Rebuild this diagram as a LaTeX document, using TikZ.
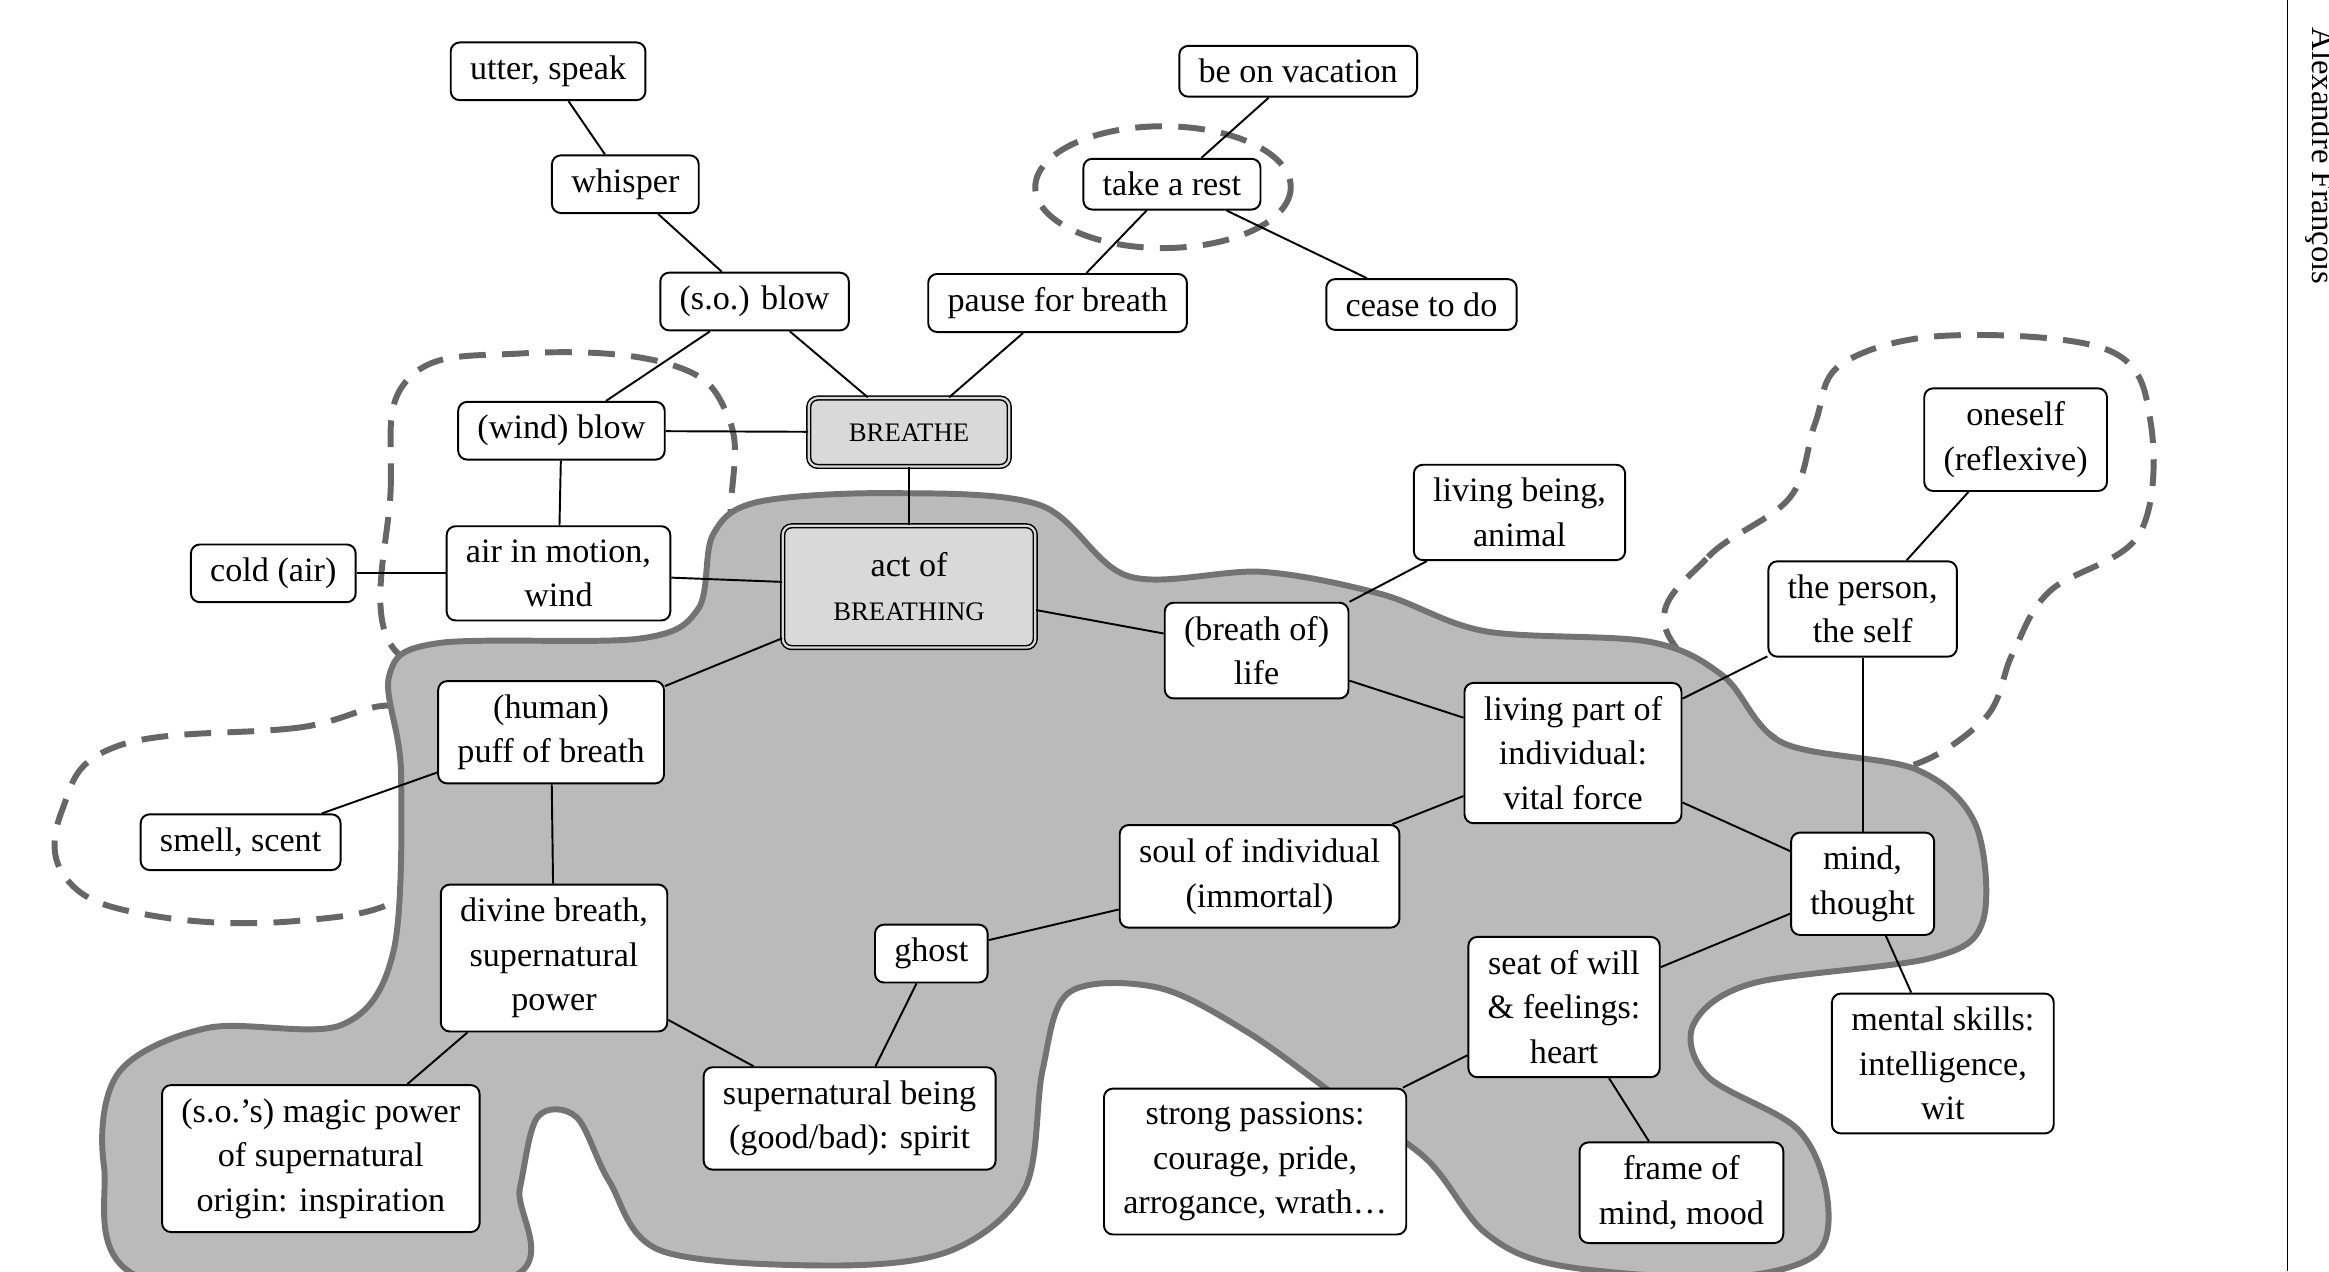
\documentclass[tikz,border=0pt]{standalone}
\usepackage{fontspec}
\setmainfont{Liberation Serif}
\begin{document}
\begin{tikzpicture}[x=1pt,y=-1pt,
  box/.style={draw=black,line width=1.3pt,rounded corners=6pt,fill=white,align=center,inner xsep=13pt,inner ysep=9pt,font=\fontsize{23}{30}\selectfont},
  core/.style={box,fill=gray!30,double=gray!30,double distance=1.5pt,line width=1pt},
  dashblob/.style={draw=black!60,line width=4pt,dash pattern=on 18pt off 11pt},
  ln/.style={line width=1.3pt}]
\useasboundingbox (0,0) rectangle (1568,856);
\fill[white] (0,0) rectangle (1568,856);
% dashed blobs
\draw[dashblob] plot[smooth cycle,tension=0.7] coordinates{(268,440)(263,330)(275,255)(350,238)(450,245)(490,280)(492,340)(480,420)(380,440)};
\draw[dashblob] (783,126) ellipse[x radius=86,y radius=41];
\draw[dashblob] plot[smooth cycle,tension=0.7] coordinates{(275,478)(200,490)(80,502)(42,545)(45,592)(100,616)(200,620)(278,600)(320,540)};
\draw[dashblob] plot[smooth cycle,tension=0.6] coordinates{(1122,425)(1150,375)(1205,335)(1222,285)(1240,245)(1310,226)(1420,236)(1448,285)(1440,360)(1380,398)(1355,440)(1335,485)(1275,518)(1200,500)};
% gray blob
\draw[fill=black!27,draw=black!55,line width=4pt] plot[smooth cycle,tension=0.55] coordinates{
(510,338)(600,332)(700,340)(760,388)(850,385)(930,400)(1000,425)(1110,432)(1160,455)(1200,500)(1290,518)(1330,555)(1335,620)(1300,645)(1180,662)(1140,690)(1150,725)(1210,760)(1230,805)(1222,845)(1160,860)(1050,852)(1000,830)(960,780)(900,738)(840,695)(780,665)(720,668)(702,720)(690,800)(640,842)(560,852)(445,842)(410,795)(388,752)(362,752)(350,800)(338,862)(100,862)(70,785)(80,722)(140,692)(230,690)(265,640)(270,520)(262,455)(295,433)(430,430)(470,410)(480,360)};
% right margin
\draw[line width=1pt] (1540,0) -- (1540,856);
\node[rotate=-90,font=\fontsize{22}{26}\selectfont,inner sep=0pt] (author) at (1562,105) {Alexandre François};
% nodes
\node[box] (utter) at (369,48) {utter, speak};
\node[box] (whisper) at (421,124) {whisper};
\node[box] (soblow) at (508,203) {(s.o.) blow};
\node[box] (vac) at (874,48) {be on vacation};
\node[box] (rest) at (789,124) {take a rest};
\node[box] (pause) at (712,204) {pause for breath};
\node[box] (cease) at (957,205) {cease to do};
\node[core,minimum width=135pt,minimum height=46pt,font=\fontsize{18}{22}\selectfont] (breathe) at (612,291) {BREATHE};
\node[box] (wblow) at (378,290) {(wind) blow};
\node[box] (air) at (376,386) {air in motion,\\wind};
\node[box] (cold) at (184,386) {cold (air)};
\node[core,minimum width=170pt,minimum height=82pt] (act) at (612,395) {act of\\{\fontsize{18}{22}\selectfont BREATHING}};
\node[box] (being) at (1023,345) {living being,\\animal};
\node[box] (life) at (846,438) {(breath of)\\life};
\node[box] (oneself) at (1357,296) {oneself\\(reflexive)};
\node[box] (person) at (1254,410) {the person,\\the self};
\node[box] (vital) at (1059,507) {living part of\\individual:\\vital force};
\node[box] (puff) at (371,493) {(human)\\puff of breath};
\node[box] (smell) at (162,567) {smell, scent};
\node[box] (soul) at (848,590) {soul of individual\\(immortal)};
\node[box] (mind) at (1254,595) {mind,\\thought};
\node[box] (ghost) at (627,642) {ghost};
\node[box] (divine) at (373,645) {divine breath,\\supernatural\\power};
\node[box] (seat) at (1053,678) {seat of will\\\& feelings:\\heart};
\node[box] (skills) at (1308,716) {mental skills:\\intelligence,\\wit};
\node[box] (spirit) at (572,753) {supernatural being\\(good/bad): spirit};
\node[box] (strong) at (845,782) {strong passions:\\courage, pride,\\arrogance, wrath\dots};
\node[box] (frame) at (1132,803) {frame of\\mind, mood};
\node[box] (magic) at (216,780) {(s.o.'s) magic power\\of supernatural\\origin: inspiration};
% edges
\draw[ln] (whisper) -- (utter);
\draw[ln] (whisper) -- (soblow);
\draw[ln] (soblow) -- (breathe);
\draw[ln] (soblow) -- (wblow);
\draw[ln] (rest) -- (vac);
\draw[ln] (rest) -- (pause);
\draw[ln] (rest) -- (cease);
\draw[ln] (pause) -- (breathe);
\draw[ln] (wblow) -- (breathe);
\draw[ln] (wblow) -- (air);
\draw[ln] (air) -- (cold);
\draw[ln] (air) -- (act);
\draw[ln] (breathe) -- (act);
\draw[ln] (act) -- (life);
\draw[ln] (act) -- (puff);
\draw[ln] (life) -- (being);
\draw[ln] (life) -- (vital);
\draw[ln] (vital) -- (person);
\draw[ln] (person) -- (oneself);
\draw[ln] (person) -- (mind);
\draw[ln] (vital) -- (soul);
\draw[ln] (vital) -- (mind);
\draw[ln] (soul) -- (ghost);
\draw[ln] (ghost) -- (spirit);
\draw[ln] (puff) -- (smell);
\draw[ln] (puff) -- (divine);
\draw[ln] (divine) -- (magic);
\draw[ln] (divine) -- (spirit);
\draw[ln] (mind) -- (seat);
\draw[ln] (mind) -- (skills);
\draw[ln] (seat) -- (strong);
\draw[ln] (seat) -- (frame);
\end{tikzpicture}
\end{document}
